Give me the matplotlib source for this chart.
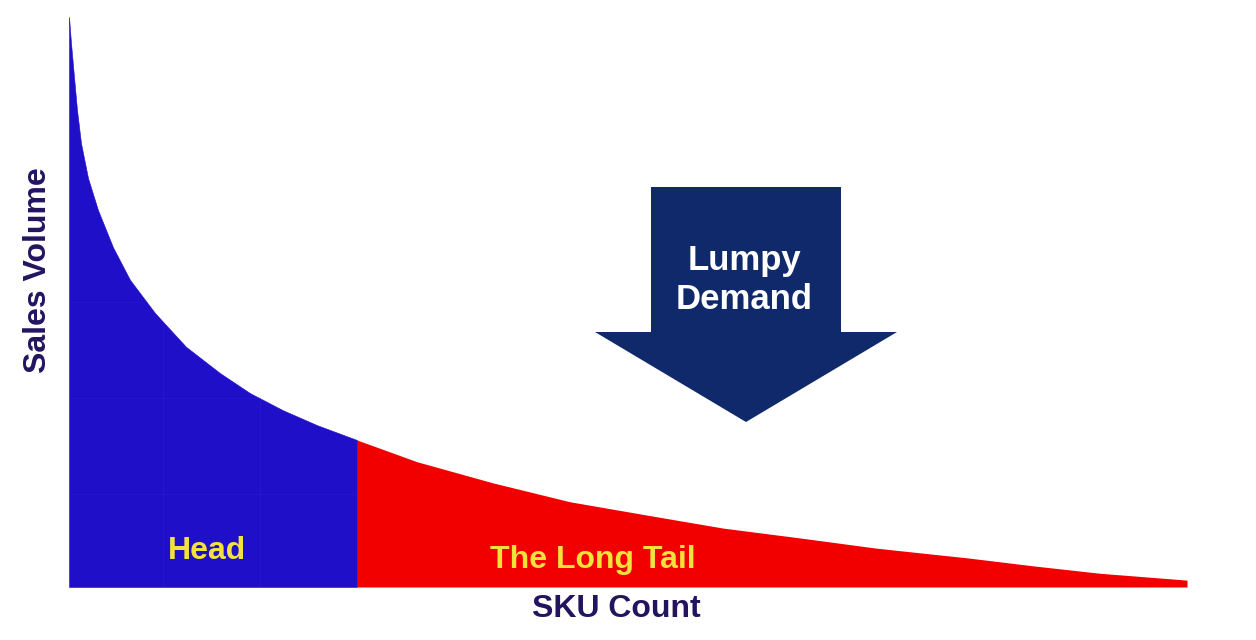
import matplotlib
matplotlib.use("Agg")
import matplotlib.pyplot as plt
from matplotlib.patches import Polygon
import numpy as np

# ---- data ----
head_sku = [0, 2, 5, 8, 12, 19, 29, 44, 61, 86, 117, 151, 181, 214, 248, 288]
head_sales = [99.7, 95.1, 89.2, 83.4, 77.6, 71.5, 65.9, 59.4, 53.7, 47.9, 42.0,
              37.4, 33.9, 30.9, 28.3, 25.7]
tail_sku = [288, 348, 424, 501, 577, 654, 730, 807, 871, 898, 964, 1031, 1118, 1118]
tail_sales = [25.7, 21.9, 18.2, 14.9, 12.6, 10.3, 8.6, 6.8, 5.6, 5.1, 3.7, 2.4, 1.2, 0.0]

x_label = "SKU Count"
y_label = "Sales Volume"
head_label = "Head"
tail_label = "The Long Tail"
arrow_text = "Lumpy\nDemand"

# ---- figure ----
W, H = 1256, 640
X0, Y0, X1, Y1 = 69, 587, 1190, 15   # pixel frame of the plotting area
fig = plt.figure(figsize=(W / 100, H / 100), dpi=100)
fig.patch.set_facecolor("white")
ax = fig.add_axes([X0 / W, (H - Y0) / H, (X1 - X0) / W, (Y0 - Y1) / H])
ax.set_xlim(0, X1 - X0)
ax.set_ylim(0, 100)
ax.axis("off")


def py2y(py):
    return 100 * (Y0 - py) / (Y0 - Y1)


def px2x(px):
    return px - X0


blue = "#1f0fc8"
red = "#f20000"
navy = "#10296b"
label_col = "#22145f"
yellow = "#f5e13c"

ax.fill_between(tail_sku, 0, tail_sales, color=red, linewidth=0)
ax.fill_between(head_sku, 0, head_sales, facecolor=blue, edgecolor=blue, linewidth=0.4)

font = ["Liberation Sans", "DejaVu Sans"]

# very faint grid visible inside the blue area
hx = np.array(head_sku, dtype=float)
hy = np.array(head_sales, dtype=float)
for gx in [px2x(163), px2x(260)]:
    top = np.interp(gx, hx, hy)
    ax.plot([gx, gx], [0, top], color="#3326dc", lw=0.8, alpha=0.3)
for gy in [py2y(494), py2y(398), py2y(302)]:
    right = np.interp(-gy, -hy, hx)
    ax.plot([0, min(right, head_sku[-1])], [gy, gy], color="#3326dc", lw=0.8, alpha=0.3)

# arrow
arrow_pts = [
    (px2x(651), py2y(187)), (px2x(841), py2y(187)),
    (px2x(841), py2y(332)), (px2x(897), py2y(332)),
    (px2x(746), py2y(422)),
    (px2x(595), py2y(332)), (px2x(651), py2y(332)),
]
ax.add_patch(Polygon(arrow_pts, closed=True, facecolor=navy, edgecolor="none"))
ax.text(px2x(744), py2y(280), arrow_text, ha="center", va="center",
        color="white", fontsize=25, fontweight="bold", family=font,
        linespacing=1.2)

ax.text(px2x(207), py2y(551), head_label, ha="center", va="center",
        color=yellow, fontsize=23, fontweight="bold", family=font)
ax.text(px2x(593), py2y(560), tail_label, ha="center", va="center",
        color=yellow, fontsize=23, fontweight="bold", family=font)

fig.text(616 / W, 1 - 609 / H, x_label, ha="center", va="center",
         color=label_col, fontsize=23, fontweight="bold", family=font)
fig.text(38 / W, 1 - 270 / H, y_label, ha="center", va="center", rotation=90,
         color=label_col, fontsize=23, fontweight="bold", family=font)

fig.savefig("out.png", dpi=100, facecolor="white")
